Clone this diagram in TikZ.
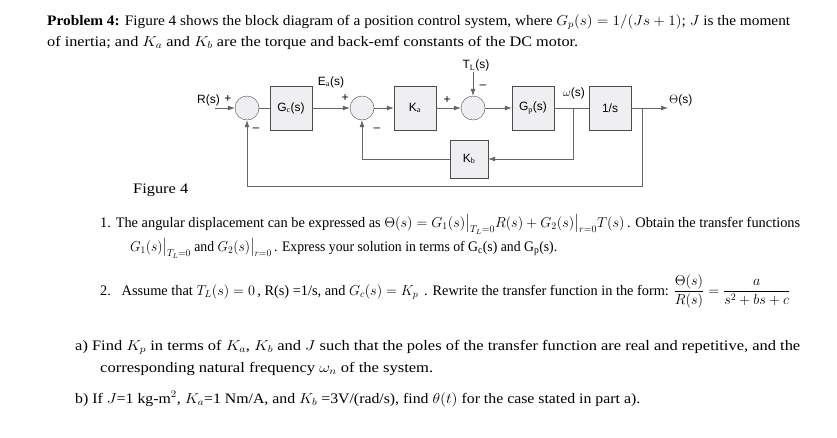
\documentclass[tikz,border=0pt]{standalone}
\usepackage{fontspec}
\usepackage{graphicx}
\usepackage{amsmath}
\setmainfont{Liberation Serif}
\newfontfamily\dsans{Liberation Sans}
\usetikzlibrary{arrows.meta}
\newcommand\fitw[2]{\resizebox{#1}{\height}{#2}}
\begin{document}
\begin{tikzpicture}[x=1pt,y=-1pt,
  blk/.style={draw=black!70,fill=blue!6!gray!12,minimum width=42pt,minimum height=44pt,inner sep=0pt,font=\dsans\fontsize{12}{12}\selectfont},
  sm/.style={circle,draw=black!70,fill=blue!6!gray!12,minimum size=24pt,inner sep=0pt},
  lab/.style={font=\dsans\fontsize{12}{12}\selectfont,inner sep=1pt},
  ln/.style={draw=black!60,line width=0.7pt},
  ar/.style={ln,-{Latex[length=7pt,width=5pt]}},
  txt/.style={anchor=base west,inner sep=0pt,font=\fontsize{14.5}{16}\selectfont}]
\useasboundingbox (0,0) rectangle (837,437);
\fill[white] (0,0) rectangle (837,437);
% text
\node[txt] (t1) at (47,25) {\fitw{743pt}{\textbf{Problem 4:} Figure 4 shows the block diagram of a position control system, where $G_p(s)=1/(Js+1)$; $J$ is the moment}};
\node[txt] (t2) at (47,46) {\fitw{531pt}{of inertia; and $K_a$ and $K_b$ are the torque and back-emf constants of the DC motor.}};
\node[txt] (fig) at (133,193) {\fitw{55pt}{Figure 4}};
\node[txt] (q1) at (100,227) {\fitw{700pt}{1. The angular displacement can be expressed as $\Theta(s)=G_1(s)\big|_{T_L=0}R(s)+G_2(s)\big|_{r=0}T(s)$\,. Obtain the transfer functions}};
\node[txt] (q1b) at (130,251) {\fitw{427pt}{$G_1(s)\big|_{T_L=0}$ and $G_2(s)\big|_{r=0}$\,. Express your solution in terms of G$_\mathrm{c}$(s) and G$_\mathrm{p}$(s).}};
\node[txt] (q2) at (100,295) {\fitw{690pt}{2.\ \ \ Assume that $T_L(s)=0$\,, R(s) =1/s, and $G_c(s)=K_p$\,\ . Rewrite the transfer function in the form: $\dfrac{\Theta(s)}{R(s)}=\dfrac{a}{s^2+bs+c}$}};
\node[txt] (qa) at (75,350) {\fitw{725pt}{a) Find $K_p$ in terms of $K_a$, $K_b$ and $J$ such that the poles of the transfer function are real and repetitive, and the}};
\node[txt] (qa2) at (100,372) {\fitw{333pt}{corresponding natural frequency $\omega_n$ of the system.}};
\node[txt] (qb) at (75,403) {\fitw{565pt}{b) If $J$=1 kg-m$^2$, $K_a$=1 Nm/A, and $K_b$ =3V/(rad/s), find $\theta(t)$\ for the case stated in part a).}};
% diagram
\node[sm] (s1) at (247,108) {};
\node[blk] (gc) at (291,108) {G$_\mathrm{c}$(s)};
\node[sm] (s2) at (362,108) {};
\node[blk] (ka) at (415,108) {K$_\mathrm{a}$};
\node[sm] (s3) at (473,108) {};
\node[blk] (gp) at (533,108) {G$_\mathrm{p}$(s)};
\node[blk] (is) at (610,108) {1/s};
\node[blk,minimum width=38pt,minimum height=38pt] (kb) at (469,159) {K$_\mathrm{b}$};
\coordinate (rin) at (215,108);
\coordinate (out) at (668,108);
\coordinate (tl) at (473,72);
\coordinate (bw) at (573,108);
\coordinate (bt) at (642,108);
\node[lab,anchor=east] (rl) at (221,100) {R(s)};
\node[lab] (eal) at (331,82) {E$_\mathrm{a}$(s)};
\node[lab,anchor=south] (tll) at (476,72) {T$_\mathrm{L}$(s)};
\node[lab] (wl) at (574,93) {$\omega$(s)};
\node[lab,anchor=west] (thl) at (668,100) {$\Theta$(s)};
\node[lab] (p1) at (228,99) {+};
\node[lab] (p2) at (345,98) {+};
\node[lab] (p3) at (447,100) {+};
\node[lab] (m1) at (256,130) {–};
\node[lab] (m2) at (377,130) {–};
\node[lab] (m3) at (483,87) {–};
\draw[ar] (rin) -- (s1);
\draw[ln] (s1) -- (gc);
\draw[ar] (gc) -- (s2);
\draw[ar] (s2) -- (ka);
\draw[ar] (ka) -- (s3);
\draw[ar] (tl) -- (s3);
\draw[ar] (s3) -- (gp);
\draw[ln] (gp) -- (is);
\draw[ar] (is) -- (out);
\draw[ar] (bw) |- (kb);
\draw[ar] (kb) -| (s2);
\draw[ar] (bt) |- (247,186) -- (s1);
\end{tikzpicture}
\end{document}
